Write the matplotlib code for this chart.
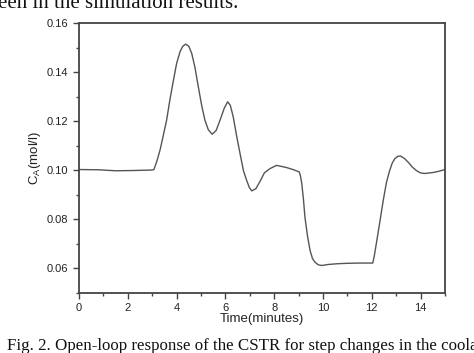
import matplotlib
matplotlib.use('Agg')
from matplotlib import pyplot as plt
from matplotlib.ticker import MultipleLocator, FormatStrFormatter

time = [0.0, 0.8, 1.5, 2.2, 3.0, 3.07, 3.2, 3.32, 3.45, 3.59, 3.73, 3.87, 4.0, 4.14, 4.25,
        4.37, 4.5, 4.62, 4.75, 4.89, 5.02, 5.16, 5.3, 5.46, 5.62, 5.78, 5.95, 6.09, 6.2,
        6.32, 6.46, 6.6, 6.74, 6.87, 6.98, 7.08, 7.25, 7.42, 7.6, 7.83, 8.1, 8.51,
        8.8, 9.03, 9.08, 9.13, 9.2, 9.26, 9.36, 9.47, 9.57, 9.67, 9.8, 9.95, 10.2,
        10.56, 11.0, 11.52, 12.04, 12.1, 12.2, 12.33, 12.47, 12.6, 12.72, 12.84, 12.95,
        13.07, 13.18, 13.34, 13.5, 13.67, 13.84, 14.0, 14.18, 14.35, 14.52, 14.75, 15.0]
conc = [0.1003, 0.1002, 0.0998, 0.0999, 0.1001, 0.1003, 0.1040, 0.1082, 0.1140, 0.1204,
        0.1290, 0.1367, 0.1435, 0.1483, 0.1505, 0.1514, 0.1505, 0.1476, 0.1420, 0.1340,
        0.1268, 0.1204, 0.1165, 0.1147, 0.1162, 0.1204, 0.1252, 0.1279, 0.1265, 0.1218,
        0.1140, 0.1068, 0.0998, 0.0959, 0.0930, 0.0916, 0.0925, 0.0955, 0.0990, 0.1007,
        0.1020, 0.1011, 0.1002, 0.0993, 0.0975, 0.0946, 0.0880, 0.0809, 0.0735, 0.0673,
        0.0640, 0.0626, 0.0615, 0.0612, 0.0616, 0.0619, 0.0621, 0.0622, 0.0622, 0.0650,
        0.0710, 0.0790, 0.0878, 0.0950, 0.0995, 0.1030, 0.1048, 0.1057, 0.1058, 0.1048,
        0.1032, 0.1012, 0.0998, 0.0989, 0.0987, 0.0989, 0.0991, 0.0996, 0.1003]

plt.rcParams['font.family'] = ['Liberation Sans', 'DejaVu Sans']

fig = plt.figure(figsize=(4.74, 3.53), dpi=100)
ax = fig.add_axes([0.1667, 0.170, 0.7721, 0.7648])

ax.plot(time, conc, color='#555555', linewidth=1.0)

ax.set_xlim(0, 15)
ax.set_ylim(0.05, 0.16)
ax.xaxis.set_major_locator(MultipleLocator(2))
ax.xaxis.set_minor_locator(MultipleLocator(1))
ax.yaxis.set_major_locator(MultipleLocator(0.02))
ax.yaxis.set_minor_locator(MultipleLocator(0.01))
ax.yaxis.set_major_formatter(FormatStrFormatter('%.2f'))

frameColour = '#444444'
for side in ax.spines.values():
  side.set_color(frameColour)
  side.set_linewidth(1.3)
ax.tick_params(which='both', direction='out', color=frameColour, labelsize=8,
               labelcolor='#222222', top=False, right=False)
ax.tick_params(which='major', length=4, width=1)
ax.tick_params(which='minor', length=2.5, width=1)

ax.set_xlabel('Time(minutes)', fontsize=9.5, labelpad=0, color='#222222')
ax.set_ylabel('C$_\\mathregular{A}$(mol/l)', fontsize=9.5, labelpad=3, color='#222222')

# Text of the surrounding page, cut off by the crop
fig.text(-0.005, 1.0 - 8/353.0, 'een in the simulation results.', family='Liberation Serif',
         fontsize=15, color='#111111', ha='left', va='baseline')
fig.text(7/474.0, 1.0 - 350/353.0, 'Fig. 2. Open-loop response of the CSTR for step changes in the coolant',
         family='Liberation Serif', fontsize=12.2, color='#111111', ha='left', va='baseline')

fig.savefig('out.png', dpi=100)
